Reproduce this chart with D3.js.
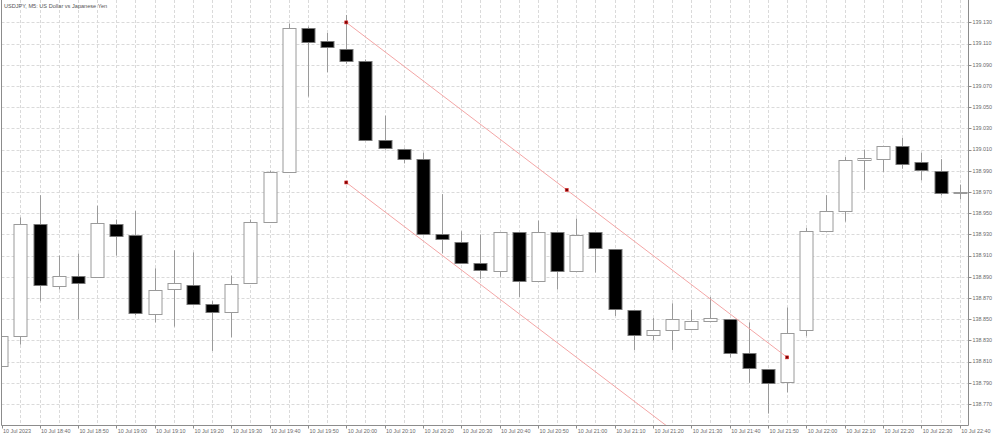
<!DOCTYPE html>
<html><head><meta charset="utf-8">
<script src="https://cdn.jsdelivr.net/npm/d3@7"></script>
<style>html,body{margin:0;padding:0;background:#fff;overflow:hidden}svg{display:block}</style>
</head><body>
<script>
// ---- data (USDJPY M5, 10 Jul 2023, 18:30 .. 22:40) ----
const opens  = [138.806,138.834,138.940,138.882,138.891,138.890,138.940,138.929,138.855,138.878,138.882,138.864,138.857,138.884,138.942,138.989,139.125,139.112,139.105,139.094,139.019,139.011,139.001,138.930,138.923,138.903,138.895,138.932,138.886,138.932,138.895,138.932,138.916,138.859,138.835,138.840,138.840,138.848,138.850,138.818,138.803,138.791,138.840,138.933,138.952,139.000,139.001,139.013,138.998,138.990,138.970];
const highs  = [138.834,138.946,138.967,138.910,138.912,138.957,138.944,138.952,138.898,138.915,138.913,138.867,138.891,138.944,138.990,139.129,139.126,139.120,139.137,139.095,139.042,139.011,139.007,138.968,138.933,138.930,138.932,138.932,138.943,138.932,138.945,138.932,138.916,138.859,138.851,138.865,138.859,138.871,138.850,138.847,138.803,138.861,138.936,138.967,139.003,139.010,139.013,139.021,139.007,139.001,138.977];
const lows   = [138.806,138.826,138.867,138.878,138.850,138.889,138.910,138.854,138.847,138.843,138.864,138.820,138.833,138.884,138.941,138.988,139.060,139.083,139.091,139.018,139.010,138.997,138.930,138.912,138.903,138.888,138.890,138.871,138.886,138.878,138.895,138.894,138.853,138.821,138.830,138.821,138.840,138.848,138.814,138.790,138.761,138.781,138.834,138.933,138.942,138.972,138.989,138.992,138.981,138.967,138.963];
const closes = [138.834,138.940,138.882,138.891,138.884,138.941,138.929,138.855,138.878,138.884,138.864,138.856,138.883,138.942,138.989,139.125,139.112,139.106,139.094,139.019,139.011,139.002,138.930,138.925,138.903,138.896,138.932,138.886,138.932,138.895,138.929,138.917,138.859,138.835,138.840,138.850,138.848,138.851,138.818,138.804,138.790,138.837,138.933,138.952,139.000,139.002,139.013,138.996,138.990,138.969,138.970];

// x-axis tick labels (every second bar, starting at bar 0)
const xTickIndex  = [0,2,4,6,8,10,12,14,16,18,20,22,24,26,28,30,32,34,36,38,40,42,44,46,48,50];
const xTickLabels = ["10 Jul 2023","10 Jul 18:40","10 Jul 18:50","10 Jul 19:00","10 Jul 19:10","10 Jul 19:20","10 Jul 19:30","10 Jul 19:40","10 Jul 19:50","10 Jul 20:00","10 Jul 20:10","10 Jul 20:20","10 Jul 20:30","10 Jul 20:40","10 Jul 20:50","10 Jul 21:00","10 Jul 21:10","10 Jul 21:20","10 Jul 21:30","10 Jul 21:40","10 Jul 21:50","10 Jul 22:00","10 Jul 22:10","10 Jul 22:20","10 Jul 22:30","10 Jul 22:40"];
// y-axis tick labels
const yTicks = [139.130,139.110,139.090,139.070,139.050,139.030,139.010,138.990,138.970,138.950,138.930,138.910,138.890,138.870,138.850,138.830,138.810,138.790,138.770];

// equidistant channel anchors: [bar index, price]
const channelP1 = [18, 139.130];
const channelP2 = [41, 138.814];
const channelP3 = [18, 138.979];

const title = "USDJPY, M5: US Dollar vs Japanese Yen";

// ---- layout ----
const W = 1000, H = 437;
const plotL = 1.5, plotR = 968.5, plotT = 0, plotB = 425.5;

const svg = d3.select("body").append("svg").attr("width", W).attr("height", H)
  .style("font-family", "'Liberation Sans', Arial, sans-serif");

const x = d3.scaleLinear().domain([0, 50]).range([1.2, 959.7]);
const y = d3.scaleLinear().domain([138.770, 139.130]).range([404, 22.4]);
const px = v => Math.round(v) + 0.5;

svg.append("defs").append("clipPath").attr("id", "plot")
  .append("rect").attr("x", plotL + 0.5).attr("y", plotT).attr("width", plotR - plotL - 1).attr("height", plotB - plotT - 0.5);

const grid = svg.append("g").attr("stroke", "#dadada").attr("stroke-dasharray", "3,2").attr("stroke-width", 1);
// horizontal grid
grid.selectAll("line.h").data(yTicks).join("line").attr("class", "h")
  .attr("x1", plotL).attr("x2", plotR).attr("y1", d => px(y(d))).attr("y2", d => px(y(d)));
// vertical grid at each bar
grid.selectAll("line.v").data(d3.range(1, opens.length)).join("line").attr("class", "v")
  .attr("x1", d => px(x(d))).attr("x2", d => px(x(d))).attr("y1", plotT).attr("y2", plotB);

// ---- candles ----
const bars = opens.map((o, i) => ({i, o, h: highs[i], l: lows[i], c: closes[i]}));
const cg = svg.append("g").attr("clip-path", "url(#plot)");
const bw = 13;
cg.selectAll("line.wick").data(bars).join("line").attr("class", "wick")
  .attr("x1", d => px(x(d.i))).attr("x2", d => px(x(d.i)))
  .attr("y1", d => y(d.h)).attr("y2", d => y(d.l))
  .attr("stroke", "#9a9a9a").attr("stroke-width", 1);
cg.selectAll("rect.body").data(bars).join("rect").attr("class", "body")
  .attr("x", d => px(x(d.i)) - bw / 2)
  .attr("width", bw)
  .attr("y", d => Math.round(y(Math.max(d.o, d.c))) + 0.5)
  .attr("height", d => Math.max(1, Math.round(Math.abs(y(d.o) - y(d.c)))))
  .attr("fill", d => d.c < d.o ? "#000" : "#fff")
  .attr("stroke", d => d.c < d.o ? "#777" : "#9a9a9a")
  .attr("stroke-width", 1);

// ---- equidistant channel ----
const chg = svg.append("g").attr("clip-path", "url(#plot)");
const off = channelP3[1] - channelP1[1];
chg.append("line")
  .attr("x1", x(channelP1[0])).attr("y1", y(channelP1[1]))
  .attr("x2", x(channelP2[0])).attr("y2", y(channelP2[1]))
  .attr("stroke", "#f4a6a6").attr("stroke-width", 1);
chg.append("line")
  .attr("x1", x(channelP3[0])).attr("y1", y(channelP3[1]))
  .attr("x2", x(channelP2[0])).attr("y2", y(channelP2[1] + off))
  .attr("stroke", "#f4a6a6").attr("stroke-width", 1);
const mid = [(channelP1[0] + channelP2[0]) / 2, (channelP1[1] + channelP2[1]) / 2];
chg.selectAll("rect.anchor").data([channelP1, channelP2, channelP3, mid]).join("rect").attr("class", "anchor")
  .attr("x", d => x(d[0]) - 1.5).attr("y", d => y(d[1]) - 1.5)
  .attr("width", 3).attr("height", 3)
  .attr("fill", "#7a0000").attr("stroke", "#e03030").attr("stroke-width", 0.6);

// ---- frame / axes ----
const ax = svg.append("g").attr("stroke", "#8c8c8c").attr("stroke-width", 1);
ax.append("line").attr("x1", plotL).attr("x2", plotL).attr("y1", plotT).attr("y2", plotB);
ax.append("line").attr("x1", plotR).attr("x2", plotR).attr("y1", plotT).attr("y2", plotB);
ax.append("line").attr("x1", plotL).attr("x2", plotR).attr("y1", plotB).attr("y2", plotB);

// y axis ticks and labels
const ya = svg.append("g");
ya.selectAll("line").data(yTicks).join("line")
  .attr("x1", plotR).attr("x2", plotR + 3).attr("y1", d => px(y(d))).attr("y2", d => px(y(d)))
  .attr("stroke", "#8c8c8c");
ya.selectAll("text").data(yTicks).join("text")
  .attr("x", plotR + 4).attr("y", d => y(d)).attr("dy", "0.35em")
  .attr("font-size", 5.4).attr("fill", "#6a6a6a")
  .text(d => d.toFixed(3));

// x axis ticks and labels
const xa = svg.append("g");
xa.selectAll("line").data(xTickIndex).join("line")
  .attr("x1", d => px(Math.max(plotL, x(d)))).attr("x2", d => px(Math.max(plotL, x(d))))
  .attr("y1", plotB).attr("y2", plotB + 3)
  .attr("stroke", "#8c8c8c");
xa.selectAll("text").data(xTickIndex).join("text")
  .attr("x", d => Math.max(plotL, x(d)) + 1.5).attr("y", plotB + 7.5)
  .attr("font-size", 5.4).attr("fill", "#6a6a6a")
  .text((d, i) => xTickLabels[i]);

// title
svg.append("text").attr("x", 4).attr("y", 8).attr("font-size", 5.6).attr("fill", "#555")
  .text(title);
</script>
</body></html>
